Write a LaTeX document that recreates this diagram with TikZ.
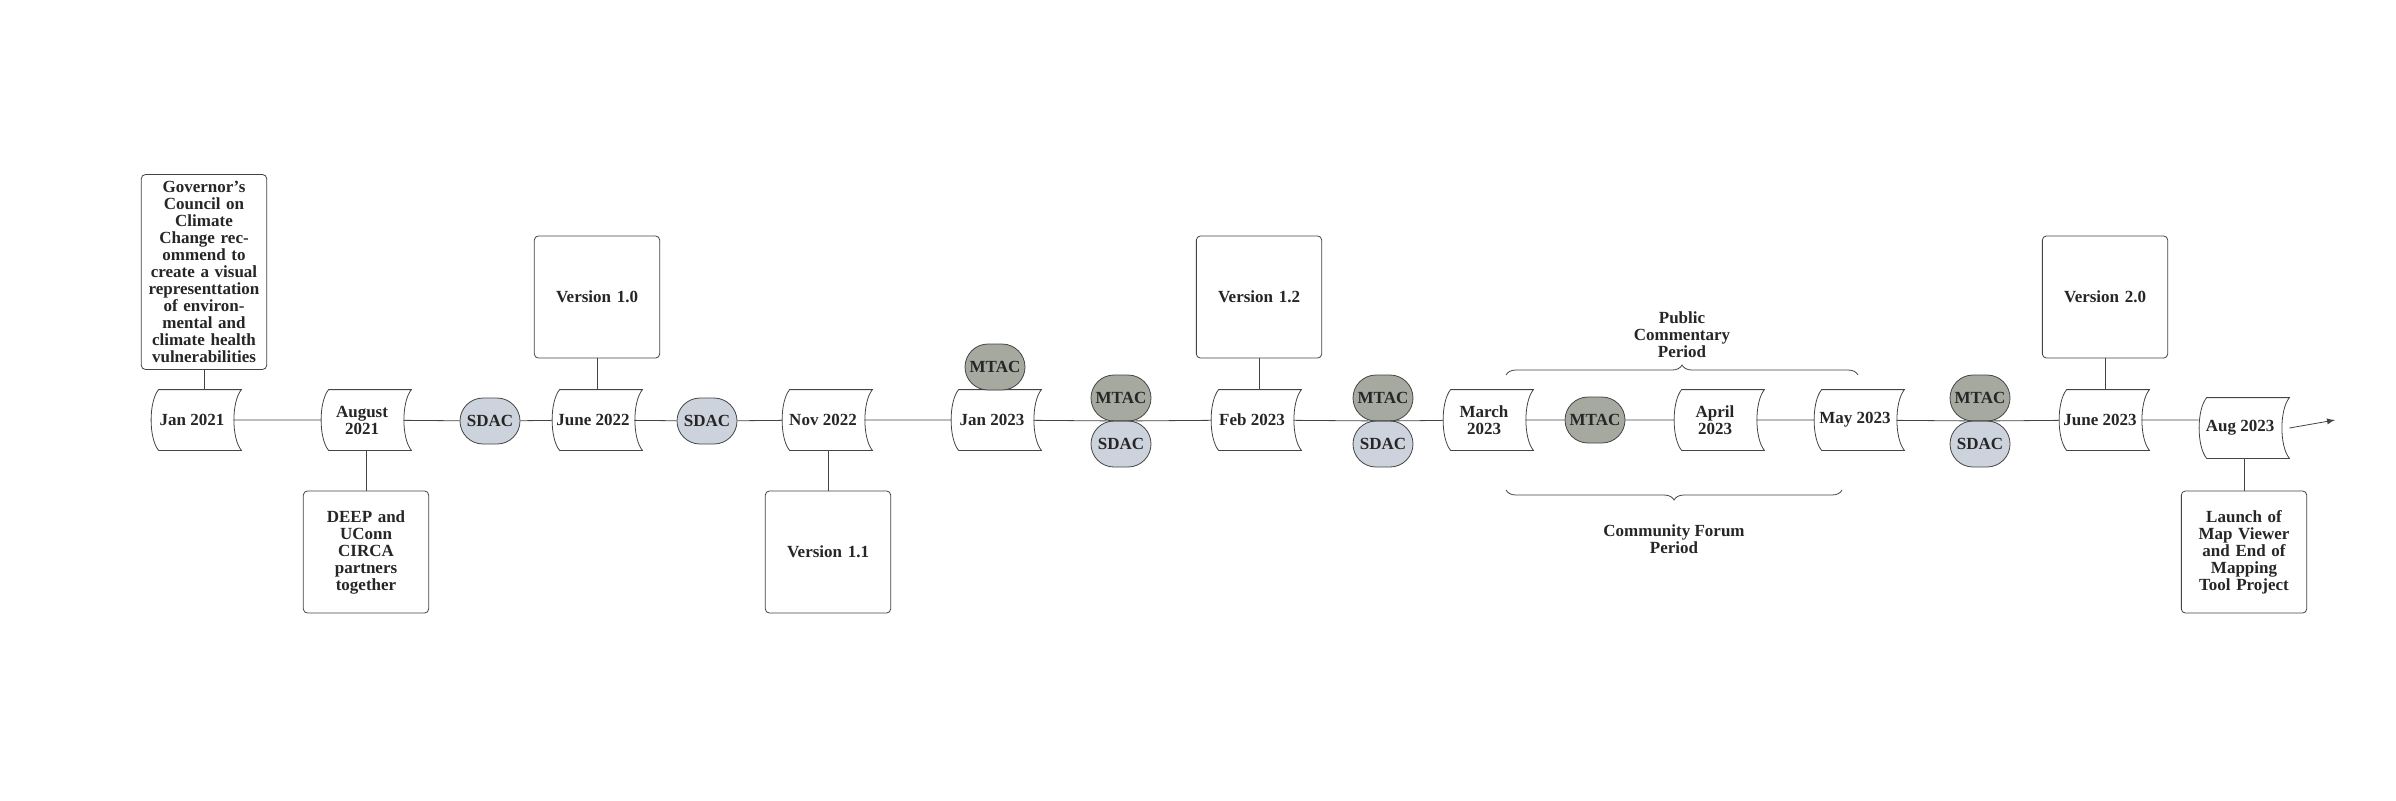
\documentclass[tikz,border=0pt]{standalone}
\usepackage{fontspec}
\setmainfont{Liberation Serif}
\usetikzlibrary{calc,decorations.pathreplacing,shapes.misc}
\definecolor{mtacgray}{HTML}{A5A99F}
\definecolor{sdacblue}{HTML}{CDD3DD}
\definecolor{linegray}{HTML}{444444}
\tikzset{
  base/.style={font=\fontsize{8.5}{8.5}\selectfont\bfseries, text=black!85, align=center},
  date/.style={base, minimum width=41pt, minimum height=30pt, inner sep=1pt},
  note/.style={base, draw=linegray, rounded corners=2pt, fill=white, text width=56pt, minimum height=61pt},
  pill/.style={base, draw=linegray, rounded rectangle, minimum width=32pt, minimum height=23pt, inner sep=1pt},
  mtac/.style={pill, fill=mtacgray},
  sdac/.style={pill, fill=sdacblue},
}
% date node with its scroll outline
\newcommand{\datenode}[3]{%
  \node[date] (#1) at (#2) {#3};
  \draw[linegray, fill=white] ($(#1.north west)+(4pt,0)$) -- ($(#1.north east)+(4pt,0)$)
    .. controls ($(#1.north east)+(-1pt,-6pt)$) and ($(#1.south east)+(-1pt,6pt)$) .. ($(#1.south east)+(4pt,0)$)
    -- ($(#1.south west)+(4pt,0)$)
    .. controls ($(#1.south west)+(-1pt,6pt)$) and ($(#1.north west)+(-1pt,-6pt)$) .. cycle;
  \node[date] at (#1) {#3};
}
\begin{document}
\begin{tikzpicture}[x=0.5pt, y=-0.5pt, linegray]
  \useasboundingbox (0,0) rectangle (2396,800);
  %--- dates
  \datenode{jan21}{192,420}{Jan 2021}
  \datenode{aug21}{362,420}{August\\2021}
  \datenode{jun22}{593,420}{June 2022}
  \datenode{nov22}{823,420}{Nov 2022}
  \datenode{jan23}{992,420}{Jan 2023}
  \datenode{feb23}{1252,420}{Feb 2023}
  \datenode{mar23}{1484,420}{March\\2023}
  \datenode{apr23}{1715,420}{April\\2023}
  \datenode{may23}{1855,420}{May 2023}
  \datenode{jun23}{2100,420}{June 2023}
  \datenode{aug23}{2240,428}{Aug 2023}
  %--- committees
  \node[sdac] (s1) at (490,421) {SDAC};
  \node[sdac] (s2) at (707,421) {SDAC};
  \node[mtac] (m1) at (995,367) {MTAC};
  \node[mtac] (m2) at (1121,398) {MTAC};
  \node[sdac] (s3) at (1121,444) {SDAC};
  \node[mtac] (m3) at (1383,398) {MTAC};
  \node[sdac] (s4) at (1383,444) {SDAC};
  \node[mtac] (m4) at (1595,420) {MTAC};
  \node[mtac] (m5) at (1980,398) {MTAC};
  \node[sdac] (s5) at (1980,444) {SDAC};
  \coordinate (p1) at ($(m2.south)!0.5!(s3.north)$);
  \coordinate (p2) at ($(m3.south)!0.5!(s4.north)$);
  \coordinate (p3) at ($(m5.south)!0.5!(s5.north)$);
  \coordinate (end) at (2335,420);
  %--- notes
  \node[note] (gov) at (204,272) {Governor's Council on Climate Change recommend to create a visual representtation of environmental and climate health vulnerabilities};
  \node[note] (deep) at (366,552) {DEEP and UConn CIRCA partners together};
  \node[note] (v10) at (597,297) {Version 1.0};
  \node[note] (v11) at (828,552) {Version 1.1};
  \node[note] (v12) at (1259,297) {Version 1.2};
  \node[note] (v20) at (2105,297) {Version 2.0};
  \node[note] (launch) at (2244,552) {Launch of Map Viewer and End of Mapping Tool Project};
  %--- timeline
  \draw (jan21) -- (aug21) -- (s1) -- (jun22) -- (s2) -- (nov22) -- (jan23) -- (p1) -- (feb23) -- (p2)
    -- (mar23) -- (m4) -- (apr23) -- (may23) -- (p3) -- (jun23) -- (aug23.west |- end);
  \draw[-latex] ($(aug23.east)+(4pt,0)$ |- end) -- (end);
  \draw (jan21.north -| gov) -- (gov);
  \draw (aug21.south -| deep) -- (deep);
  \draw (jun22.north -| v10) -- (v10);
  \draw (nov22.south -| v11) -- (v11);
  \draw (feb23.north -| v12) -- (v12);
  \draw (jun23.north -| v20) -- (v20);
  \draw (aug23.south -| launch) -- (launch);
  %--- periods
  \draw[decorate, decoration={brace, amplitude=5pt}] (1506,375) -- (1858,375)
    node[base, midway, above=5pt] (pub) {Public\\Commentary\\Period};
  \draw[decorate, decoration={brace, amplitude=5pt, mirror}] (1506,490) -- (1842,490)
    node[base, midway, below=14pt] (forum) {Community Forum\\Period};
\end{tikzpicture}
\end{document}
